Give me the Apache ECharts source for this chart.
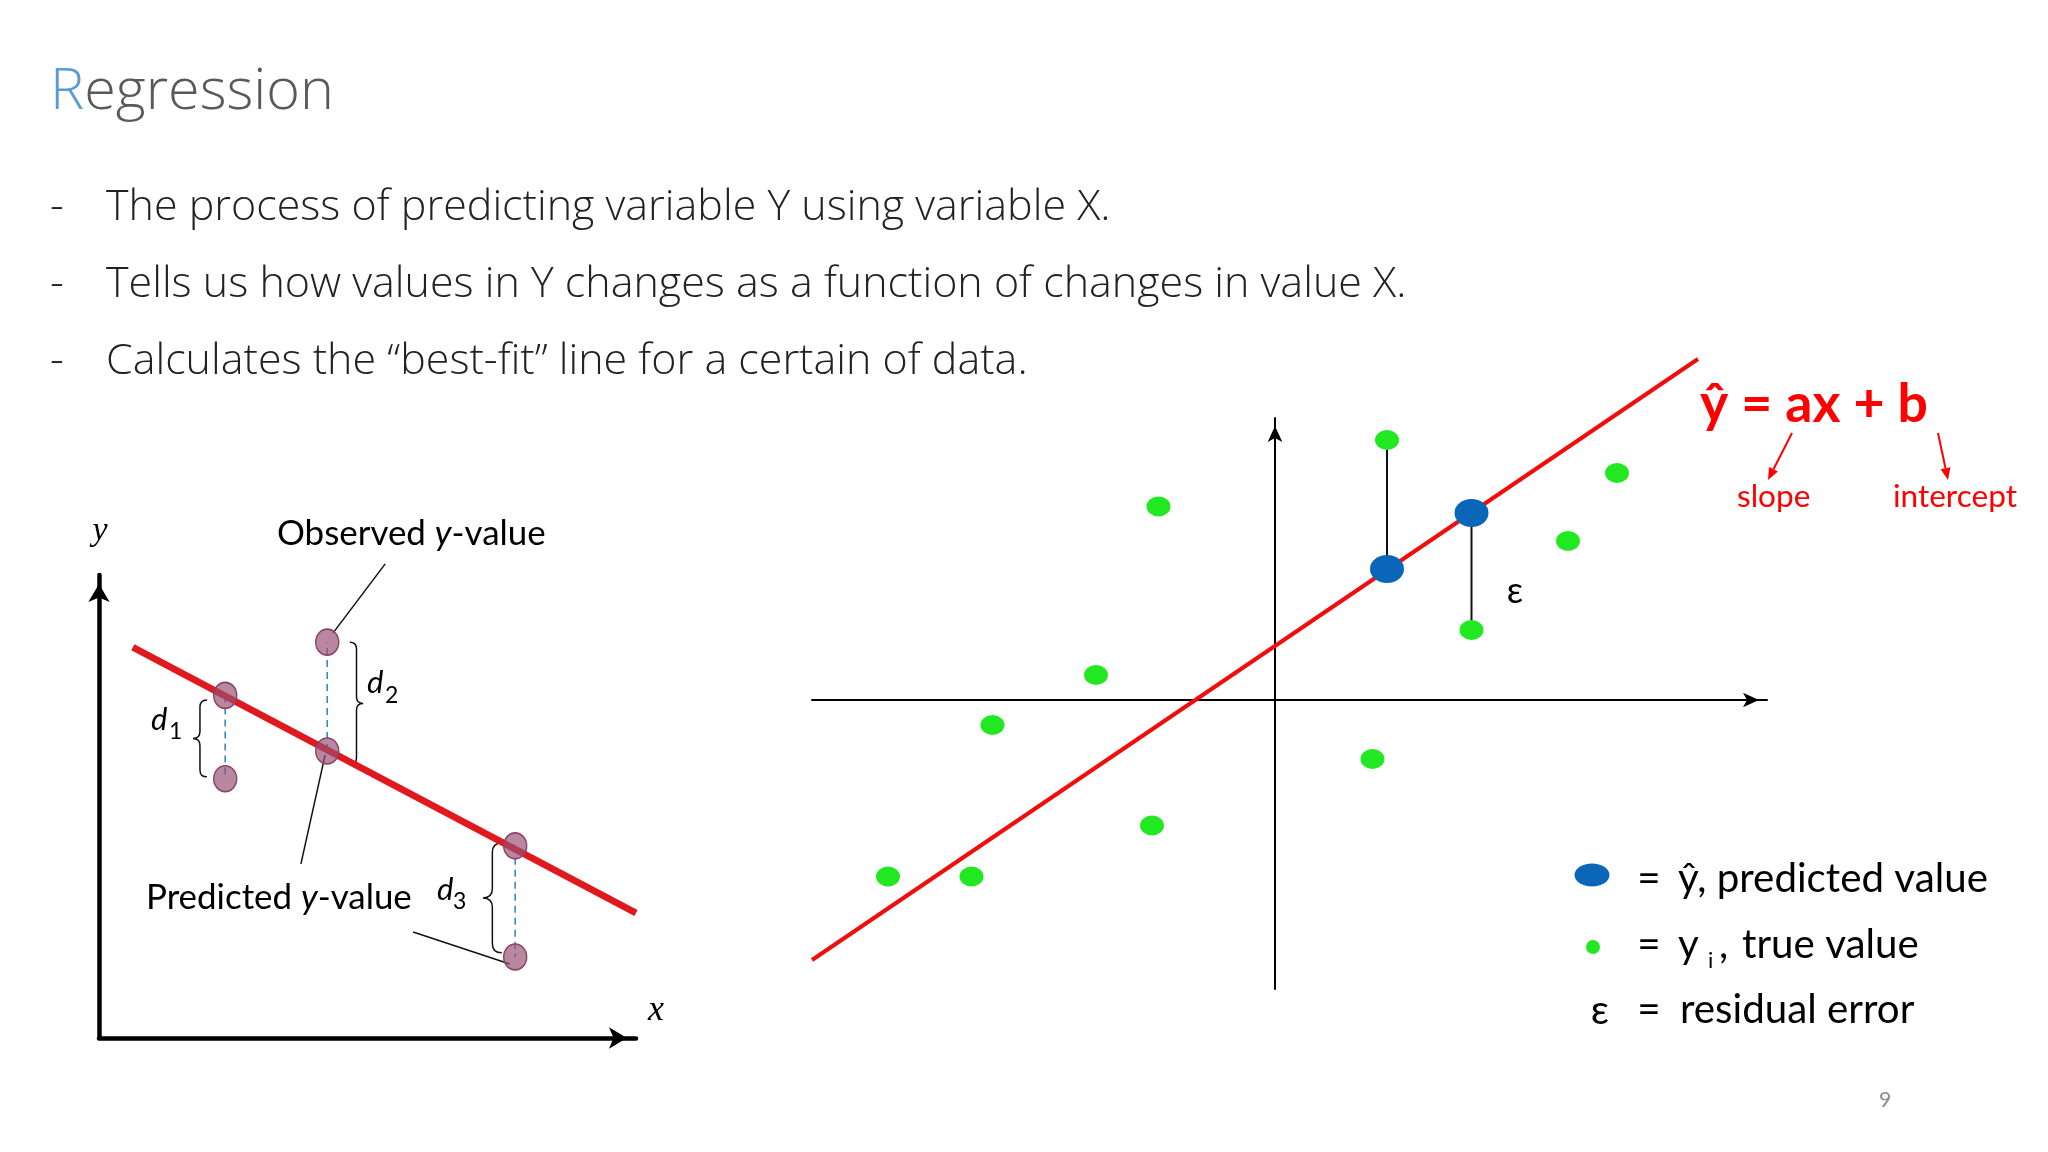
<!DOCTYPE html>
<html><head><meta charset="utf-8">
<script src="https://cdn.jsdelivr.net/npm/echarts@6/dist/echarts.min.js"></script>
<style>html,body{margin:0;padding:0;background:#fff}#c{width:2048px;height:1152px}</style>
</head><body><div id="c"></div>
<script>
// ---------- Left panel: observed vs predicted (data units) ----------
const leftFitLine = [[0.63, 8.44], [10, 2.70]];
const leftX = [2.35, 4.25, 7.75];
const leftObserved = [5.6, 8.55, 1.75];
const leftPredicted = [7.4, 6.2, 4.15];
// braces: [xTip, xEnd, yTop, yBottom]
const leftBraces = [[1.75, 2.01, 7.30, 5.64], [4.92, 4.67, 8.55, 5.90], [7.15, 7.50, 4.21, 1.84]];
// leader lines: [x1, y1, x2, y2]
const leftLeaders = [[5.33, 10.24, 4.36, 8.75], [4.21, 6.11, 3.76, 3.76], [5.85, 2.29, 7.65, 1.60]];

// ---------- Right panel: regression line, true & predicted values ----------
const rightFitLine = [[-9.26, -5.2], [8.46, 6.82]];
const trueX = [-2.33, 2.24, 6.84, 5.86, 3.93, -3.58, -5.65, 1.95, -2.46, -7.74, -6.07];
const trueY = [3.87, 5.2, 4.54, 3.18, 1.40, 0.50, -0.50, -1.18, -2.51, -3.53, -3.53];
const predX = [2.24, 3.93];
const predY = [2.62, 3.74];
const residuals = [[2.24, 5.2, 2.24, 2.62], [3.93, 3.74, 3.93, 1.40]];

// ---------- Texts ----------
const titleText = 'Regression';
const bullets = [
  'The process of predicting variable Y using variable X.',
  'Tells us how values in Y changes as a function of changes in value X.',
  'Calculates the \u201cbest-fit\u201d line for a certain of data.'
];
const formulaText = '\u0177 = ax + b';
const legendTexts = ['\u0177, predicted value', 'true value', 'residual error'];

// ---------- helpers ----------
const mctx = document.createElement('canvas').getContext('2d');
function fitFs(text, weight, style, family, target) {
  mctx.font = style + ' ' + weight + ' 100px ' + family;
  return 100 * target / mctx.measureText(text).width;
}
const LIGHT = "'Open Sans', 'Lato', sans-serif";
const CAL = "'Lato', 'Noto Sans', sans-serif";
const SERIF = "'Liberation Serif', 'DejaVu Serif', serif";

function txt(x, base, text, o) {
  return {
    type: 'text', x: x, y: base - 0.32 * o.fs, z: 100,
    style: {
      text: text, fill: o.color || '#000', fontSize: o.fs, fontFamily: o.family,
      fontWeight: o.weight || 400, fontStyle: o.style || 'normal',
      align: o.align || 'left', verticalAlign: 'middle'
    }
  };
}
function richTxt(x, base, fs, parts) {
  const rich = {}; let s = '';
  parts.forEach(function (p, i) {
    rich['p' + i] = { fontSize: fs, fontFamily: p.family, fontWeight: p.weight || 400, fontStyle: p.style || 'normal', fill: p.color || '#000' };
    s += '{p' + i + '|' + p.t + '}';
  });
  return { type: 'text', x: x, y: base - 0.32 * fs, z: 100, style: { text: s, rich: rich, align: 'left', verticalAlign: 'middle' } };
}
function arrow(x1, y1, x2, y2, color) {
  const a = Math.atan2(y2 - y1, x2 - x1), L = 12, W = 5;
  const bx = x2 - L * Math.cos(a), by = y2 - L * Math.sin(a);
  return [
    { type: 'line', shape: { x1: x1, y1: y1, x2: bx, y2: by }, style: { stroke: color, lineWidth: 2 } },
    { type: 'polygon', shape: { points: [[x2, y2], [bx + W * Math.sin(a), by - W * Math.cos(a)], [bx - W * Math.sin(a), by + W * Math.cos(a)]] }, style: { fill: color } }
  ];
}

// font sizes fitted to the reference widths
const titleFs = fitFs(titleText, 300, 'normal', LIGHT, 284);
const bulletFs = fitFs(bullets[1], 300, 'normal', LIGHT, 1301);
const obsFs = fitFs('Observed y-value', 400, 'normal', CAL, 270);
const legFs = fitFs(legendTexts[0], 400, 'normal', CAL, 310);
const formFs = fitFs(formulaText, 700, 'normal', CAL, 228);
const smallRedFs = fitFs('intercept', 400, 'normal', CAL, 124);

const graphics = [];
graphics.push(richTxt(50, 111, titleFs, [
  { t: 'R', family: LIGHT, weight: 300, color: '#5b9bd5' },
  { t: 'egression', family: LIGHT, weight: 300, color: '#595959' }
]));
bullets.forEach(function (b, i) {
  const base = 222 + i * 77;
  graphics.push(txt(50, base, '-', { fs: bulletFs, family: LIGHT, weight: 300, color: '#222' }));
  graphics.push(txt(106, base, b, { fs: bulletFs, family: LIGHT, weight: 300, color: '#222' }));
});
// left panel labels
graphics.push(txt(100, 542, 'y', { fs: 34, family: SERIF, style: 'italic', align: 'center' }));
graphics.push(txt(656, 1022, 'x', { fs: 36, family: SERIF, style: 'italic', align: 'center' }));
graphics.push(richTxt(277, 545, obsFs, [
  { t: 'Observed ', family: CAL }, { t: 'y', family: CAL, style: 'italic' }, { t: '-value', family: CAL }
]));
graphics.push(richTxt(146, 909, obsFs, [
  { t: 'Predicted ', family: CAL }, { t: 'y', family: CAL, style: 'italic' }, { t: '-value', family: CAL }
]));
[[151, 730, '1', 169, 739], [367, 693, '2', 385, 703], [437, 900, '3', 453, 909]].forEach(function (d) {
  graphics.push(txt(d[0], d[1], 'd', { fs: 31, family: CAL, style: 'italic' }));
  graphics.push(txt(d[3], d[4], d[2], { fs: 23, family: CAL }));
});
// right panel labels
graphics.push(txt(1515, 603, '\u03b5', { fs: 36, family: CAL, align: 'center' }));
graphics.push(txt(1700, 422, formulaText, { fs: formFs, family: CAL, weight: 700, color: '#ff0000' }));
graphics.push(txt(1737, 507, 'slope', { fs: smallRedFs, family: CAL, color: '#ff0000' }));
graphics.push(txt(1893, 507, 'intercept', { fs: smallRedFs, family: CAL, color: '#ff0000' }));
arrow(1792, 433, 1768, 480, '#ff0000').forEach(function (e) { graphics.push(e); });
arrow(1938, 433, 1948, 480, '#ff0000').forEach(function (e) { graphics.push(e); });
// legend
graphics.push({ type: 'ellipse', shape: { cx: 1592, cy: 875, rx: 17.5, ry: 11.5 }, style: { fill: '#0a66b8' } });
graphics.push({ type: 'circle', shape: { cx: 1593, cy: 947, r: 7 }, style: { fill: '#22e822' } });
graphics.push(txt(1600, 1024, '\u03b5', { fs: legFs, family: CAL, align: 'center' }));
[892, 958, 1023].forEach(function (b) { graphics.push(txt(1649, b, '=', { fs: legFs, family: CAL, align: 'center' })); });
graphics.push(txt(1678, 892, legendTexts[0], { fs: legFs, family: CAL }));
graphics.push(txt(1678, 958, 'y', { fs: legFs, family: CAL }));
graphics.push(txt(1708, 968, 'i', { fs: 22, family: CAL }));
graphics.push(txt(1719, 958, ',', { fs: legFs, family: CAL }));
graphics.push(txt(1742, 958, legendTexts[1], { fs: legFs, family: CAL }));
graphics.push(txt(1680, 1023, legendTexts[2], { fs: legFs, family: CAL }));
graphics.push(txt(1885, 1107, '9', { fs: 21, family: CAL, color: '#8a8a8a', align: 'center' }));

// custom renderers
function segRender(color, width, dash) {
  return function (params, api) {
    const p1 = api.coord([api.value(0), api.value(1)]);
    const p2 = api.coord([api.value(2), api.value(3)]);
    return { type: 'line', shape: { x1: p1[0], y1: p1[1], x2: p2[0], y2: p2[1] },
      style: { stroke: color, lineWidth: width, lineDash: dash || null, fill: null } };
  };
}
function braceRender(params, api) {
  const a = api.coord([api.value(0), api.value(2)]);
  const b = api.coord([api.value(1), api.value(3)]);
  const xt = a[0], xe = b[0], yt = a[1], yb = b[1];
  const xm = (xt + xe) / 2, ym = (yt + yb) / 2, r = Math.abs(xe - xm);
  const d = 'M' + xe + ',' + yt + ' Q' + xm + ',' + yt + ' ' + xm + ',' + (yt + r) +
    ' L' + xm + ',' + (ym - r) + ' Q' + xm + ',' + ym + ' ' + xt + ',' + ym +
    ' Q' + xm + ',' + ym + ' ' + xm + ',' + (ym + r) + ' L' + xm + ',' + (yb - r) +
    ' Q' + xm + ',' + yb + ' ' + xe + ',' + yb;
  return { type: 'path', shape: { pathData: d }, style: { stroke: '#111', fill: 'none', lineWidth: 1.5 } };
}

const dashedPairs = leftX.map(function (x, i) { return [x, leftPredicted[i], x, leftObserved[i]]; });
const ptStyle = { color: 'rgba(152,78,114,0.68)', borderColor: '#8a4466', borderWidth: 1.5, opacity: 1 };

function axisCommon(width, arrowSize, off) {
  return {
    show: true, onZero: true, symbol: ['none', 'arrow'], symbolSize: arrowSize, symbolOffset: [0, off],
    lineStyle: { color: '#000', width: width }
  };
}

const option = {
  backgroundColor: '#ffffff',
  animation: false,
  grid: [
    { left: 99, top: 575, width: 537, height: 463 },
    { left: 812, top: 418, width: 955, height: 571 }
  ],
  xAxis: [
    { type: 'value', gridIndex: 0, min: 0, max: 10, axisLine: axisCommon(4.5, [16, 18], -9), axisTick: { show: false }, axisLabel: { show: false }, splitLine: { show: false } },
    { type: 'value', gridIndex: 1, min: -9.26, max: 9.84, axisLine: axisCommon(2, [11, 16], -8), axisTick: { show: false }, axisLabel: { show: false }, splitLine: { show: false } }
  ],
  yAxis: [
    { type: 'value', gridIndex: 0, min: 0, max: 10, axisLine: axisCommon(4.5, [16, 18], -9), axisTick: { show: false }, axisLabel: { show: false }, splitLine: { show: false } },
    { type: 'value', gridIndex: 1, min: -5.78, max: 5.64, axisLine: axisCommon(2, [11, 16], -8), axisTick: { show: false }, axisLabel: { show: false }, splitLine: { show: false } }
  ],
  graphic: graphics,
  series: [
    { type: 'custom', xAxisIndex: 0, yAxisIndex: 0, z: 1, renderItem: segRender('#3a87d0', 1.6, [7, 5]), data: dashedPairs, silent: true },
    { type: 'line', xAxisIndex: 0, yAxisIndex: 0, z: 2, data: leftFitLine, symbol: 'none', clip: false,
      lineStyle: { color: '#e0191f', width: 7 } },
    { type: 'custom', xAxisIndex: 0, yAxisIndex: 0, z: 2, renderItem: braceRender, data: leftBraces, silent: true },
    { type: 'custom', xAxisIndex: 0, yAxisIndex: 0, z: 2, renderItem: segRender('#111', 1.5), data: leftLeaders, silent: true },
    { type: 'scatter', xAxisIndex: 0, yAxisIndex: 0, z: 3, symbol: 'circle', symbolSize: [23, 26], itemStyle: ptStyle,
      data: leftX.map(function (x, i) { return [x, leftObserved[i]]; }) },
    { type: 'scatter', xAxisIndex: 0, yAxisIndex: 0, z: 3, symbol: 'circle', symbolSize: [23, 26], itemStyle: ptStyle,
      data: leftX.map(function (x, i) { return [x, leftPredicted[i]]; }) },

    { type: 'line', xAxisIndex: 1, yAxisIndex: 1, z: 2, data: rightFitLine, symbol: 'none', clip: false,
      lineStyle: { color: '#f20d0d', width: 4 } },
    { type: 'custom', xAxisIndex: 1, yAxisIndex: 1, z: 2, renderItem: segRender('#111', 2), data: residuals, silent: true },
    { type: 'scatter', xAxisIndex: 1, yAxisIndex: 1, z: 3, symbol: 'circle', symbolSize: [24, 20], itemStyle: { color: '#22e822', opacity: 1 },
      data: trueX.map(function (x, i) { return [x, trueY[i]]; }) },
    { type: 'scatter', xAxisIndex: 1, yAxisIndex: 1, z: 4, symbol: 'circle', symbolSize: [34, 28], itemStyle: { color: '#0a66b8', opacity: 1 },
      data: predX.map(function (x, i) { return [x, predY[i]]; }) }
  ]
};
const chart = echarts.init(document.getElementById('c'));
chart.setOption(option);
</script>
</body></html>
